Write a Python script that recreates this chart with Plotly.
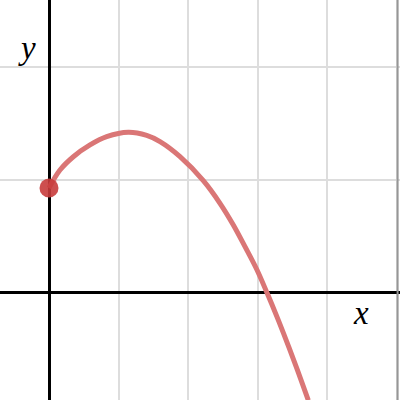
import plotly.graph_objects as go

# points (grid units)
xs = [0.0, 0.158, 0.35, 0.59, 0.83, 1.141, 1.406, 1.597, 1.885, 2.22, 2.46,
      2.652, 2.82, 2.988, 3.141, 3.276, 3.42, 3.564, 3.731]
ys = [0.929, 1.088, 1.206, 1.31, 1.383, 1.422, 1.394, 1.339, 1.206, 0.994, 0.794,
      0.602, 0.41, 0.21, -0.005, -0.205, -0.43, -0.665, -0.95]

start_x = [0.0]
start_y = [0.929]

fig = go.Figure()
fig.add_trace(go.Scatter(
    x=xs, y=ys, mode="lines",
    line=dict(color="rgb(218,118,118)", width=5, shape="spline", smoothing=1.0),
    hoverinfo="skip",
))
fig.add_trace(go.Scatter(
    x=start_x, y=start_y, mode="markers",
    marker=dict(size=19, color="rgba(200,60,60,0.9)", line=dict(width=0)),
    hoverinfo="skip",
))

fig.add_annotation(x=4.49, y=0.0, text="<i>x</i>", showarrow=False,
                   xanchor="center", yanchor="top",
                   font=dict(family="Liberation Serif", size=33, color="black"))
fig.add_annotation(x=-0.31, y=1.99, text="<i>y</i>", showarrow=False,
                   xanchor="center", yanchor="bottom",
                   font=dict(family="Liberation Serif", size=33, color="black"))

# frame edge on the right
fig.add_shape(type="line", xref="paper", yref="paper", x0=0.994, x1=0.994, y0=0, y1=1,
              line=dict(color="rgb(150,150,150)", width=2))

fig.update_xaxes(range=[-0.705, 5.05], dtick=1, showgrid=True,
                 gridcolor="rgb(221,221,221)", gridwidth=1.5,
                 zeroline=True, zerolinecolor="black", zerolinewidth=3,
                 showticklabels=False, ticks="", fixedrange=True)
fig.update_yaxes(range=[-0.947, 2.593], dtick=1, showgrid=True,
                 gridcolor="rgb(221,221,221)", gridwidth=1.5,
                 zeroline=True, zerolinecolor="black", zerolinewidth=3,
                 showticklabels=False, ticks="", fixedrange=True)

fig.update_layout(
    width=400, height=400,
    margin=dict(l=0, r=0, t=0, b=0),
    paper_bgcolor="white", plot_bgcolor="white",
    showlegend=False,
)

fig.write_html("out.html", config=dict(displayModeBar=False),
               post_script="document.body.style.margin='0';")
